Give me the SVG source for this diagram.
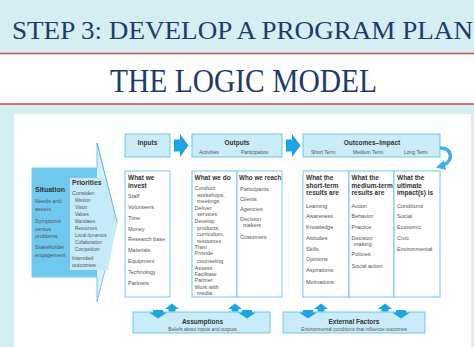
<svg xmlns="http://www.w3.org/2000/svg" width="474" height="347" viewBox="0 0 474 347">
<defs>
<style>
.t{font-family:"Liberation Sans",Arial,sans-serif;fill:#555}
.b{font-family:"Liberation Sans",Arial,sans-serif;font-weight:bold;fill:#333}
.s{font-size:5.5px}
.h{font-size:6.5px}
.box{fill:#c9ecf8;stroke:#62c3ea;stroke-width:0.9}
.col{fill:#fff;stroke:#62c3ea;stroke-width:0.9}
.arr{fill:#1aa5e5}
.ttl{font-family:"Liberation Serif","Times New Roman",serif;fill:#1d3b6e}
</style>
<linearGradient id="ag" x1="0" y1="0" x2="1" y2="0">
<stop offset="0" stop-color="#9adcf4"/>
<stop offset="1" stop-color="#e6f7fc"/>
</linearGradient>
</defs>
<rect width="474" height="347" fill="#d5eef2"/>
<rect x="0" y="54" width="474" height="50" fill="#fff"/>
<line x1="0" y1="53.5" x2="474" y2="53.5" stroke="#c0504d" stroke-width="1.5"/>
<line x1="0" y1="104" x2="474" y2="104" stroke="#c0504d" stroke-width="1.5"/>
<text class="ttl" x="12" y="39" font-size="26" textLength="461" lengthAdjust="spacingAndGlyphs">STEP 3: DEVELOP A PROGRAM PLAN</text>
<text class="ttl" x="110" y="92" font-size="33" textLength="267" lengthAdjust="spacingAndGlyphs">THE LOGIC MODEL</text>
<rect x="14" y="114" width="457" height="233" fill="#fff"/>
<rect x="471" y="114" width="3" height="233" fill="#e4e8ea"/>

<g id="situation-arrow">
<polygon points="32,168 97,168 97,143 117,222 97,302 97,277 32,277" fill="url(#ag)" stroke="#55bde6" stroke-width="0.8"/>
<rect x="32" y="168" width="65" height="109" fill="#6fc9ee"/>
<polygon points="70,178 105.5,178 117,222 108,270 70,270" fill="#c6ebf8"/>
<line x1="97" y1="143" x2="117" y2="222" stroke="#55bde6" stroke-width="0.8"/>
</g>
<g id="situation">
<text class="b" x="35" y="192" font-size="7">Situation</text>
<text class="t s" x="35" y="203">Needs and</text>
<text class="t s" x="35" y="210.5">assets</text>
<text class="t s" x="35" y="223">Symptoms</text>
<text class="t s" x="35" y="230.5">versus</text>
<text class="t s" x="35" y="238">problems</text>
<text class="t s" x="35" y="249">Stakeholder</text>
<text class="t s" x="35" y="256.5">engagement</text>
</g>
<g id="priorities">
<text class="b" x="72" y="185" font-size="6.8">Priorities</text>
<text class="t s" x="72" y="194.5">Consider:</text>
<text class="t" x="75" y="202" font-size="4.6">Mission</text>
<text class="t" x="75" y="209" font-size="4.6">Vision</text>
<text class="t" x="75" y="216" font-size="4.6">Values</text>
<text class="t" x="75" y="223" font-size="4.6">Mandates</text>
<text class="t" x="75" y="230" font-size="4.6">Resources</text>
<text class="t" x="75" y="237" font-size="4.6">Local dynamics</text>
<text class="t" x="75" y="244" font-size="4.6">Collaboration</text>
<text class="t" x="75" y="251" font-size="4.6">Competition</text>
<text class="t s" x="72" y="260">Intended</text>
<text class="t s" x="72" y="267">outcomes</text>
</g>

<g id="inputs">
<rect class="box" x="125" y="134" width="45" height="23"/>
<text class="b h" x="147.5" y="145" text-anchor="middle">Inputs</text>
</g>
<g id="outputs">
<rect class="box" x="192" y="134" width="90" height="23"/>
<text class="b h" x="237" y="145" text-anchor="middle">Outputs</text>
<text class="t" x="199" y="153.5" font-size="5">Activities</text>
<text class="t" x="241" y="153.5" font-size="5">Participation</text>
</g>
<g id="outcomes">
<rect class="box" x="303" y="134" width="137" height="23"/>
<text class="b h" x="372" y="145" text-anchor="middle">Outcomes–Impact</text>
<text class="t" x="311" y="153.5" font-size="5">Short Term</text>
<text class="t" x="353" y="153.5" font-size="5">Medium Term</text>
<text class="t" x="404" y="153.5" font-size="5">Long Term</text>
</g>

<g id="invest">
<rect class="col" x="125" y="171" width="45" height="126"/>
<text class="b h" x="128" y="180">What we</text>
<text class="b h" x="128" y="187.5">invest</text>
<text class="t s" x="128" y="198">Staff</text>
<text class="t s" x="128" y="209">Volunteers</text>
<text class="t s" x="128" y="219.5">Time</text>
<text class="t s" x="128" y="230.5">Money</text>
<text class="t s" x="128" y="241">Research base</text>
<text class="t s" x="128" y="252">Materials</text>
<text class="t s" x="128" y="263">Equipment</text>
<text class="t s" x="128" y="274">Technology</text>
<text class="t s" x="128" y="285">Partners</text>
</g>
<g id="do">
<rect class="col" x="192" y="171" width="45" height="126"/>
<text class="b h" x="194.5" y="180">What we do</text>
<text class="t s" x="194.5" y="190">Conduct</text>
<text class="t s" x="197" y="196.5">workshops,</text>
<text class="t s" x="197" y="202.5">meetings</text>
<text class="t s" x="194.5" y="209.5">Deliver</text>
<text class="t s" x="197" y="216">services</text>
<text class="t s" x="194.5" y="223">Develop</text>
<text class="t s" x="197" y="229.5">products,</text>
<text class="t s" x="197" y="236">curriculum,</text>
<text class="t s" x="197" y="243">resources</text>
<text class="t s" x="194.5" y="248.5">Train</text>
<text class="t s" x="194.5" y="255">Provide</text>
<text class="t s" x="197" y="262.5">counseling</text>
<text class="t s" x="194.5" y="269.5">Assess</text>
<text class="t s" x="194.5" y="276">Facilitate</text>
<text class="t s" x="194.5" y="282">Partner</text>
<text class="t s" x="194.5" y="288.5">Work with</text>
<text class="t s" x="197" y="295">media</text>
</g>
<g id="reach">
<rect class="col" x="237" y="171" width="45" height="126"/>
<text class="b" x="239" y="180" font-size="6.3">Who we reach</text>
<text class="t s" x="240" y="191">Participants</text>
<text class="t s" x="240" y="200.5">Clients</text>
<text class="t s" x="240" y="211">Agencies</text>
<text class="t s" x="240" y="221">Decision</text>
<text class="t s" x="243" y="227">makers</text>
<text class="t s" x="240" y="239">Customers</text>
</g>
<g id="short">
<rect class="col" x="303" y="171" width="46" height="126"/>
<text class="b h" x="306" y="180">What the</text>
<text class="b h" x="306" y="187.5">short-term</text>
<text class="b h" x="306" y="195">results are</text>
<text class="t s" x="306" y="207.5">Learning</text>
<text class="t s" x="306" y="218">Awareness</text>
<text class="t s" x="306" y="228.5">Knowledge</text>
<text class="t s" x="306" y="239.5">Attitudes</text>
<text class="t s" x="306" y="250.5">Skills</text>
<text class="t s" x="306" y="261">Opinions</text>
<text class="t s" x="306" y="272">Aspirations</text>
<text class="t s" x="306" y="283.5">Motivations</text>
</g>
<g id="medium">
<rect class="col" x="349" y="171" width="45" height="126"/>
<text class="b h" x="351.5" y="180">What the</text>
<text class="b h" x="351.5" y="187.5">medium-term</text>
<text class="b h" x="351.5" y="195">results are</text>
<text class="t s" x="351.5" y="207.5">Action</text>
<text class="t s" x="351.5" y="218">Behavior</text>
<text class="t s" x="351.5" y="228.5">Practice</text>
<text class="t s" x="351.5" y="239.5">Decision</text>
<text class="t s" x="354" y="246">making</text>
<text class="t s" x="351.5" y="256">Policies</text>
<text class="t s" x="351.5" y="267.5">Social action</text>
</g>
<g id="long">
<rect class="col" x="394" y="171" width="46" height="126"/>
<text class="b h" x="397" y="180">What the</text>
<text class="b h" x="397" y="187.5">ultimate</text>
<text class="b h" x="397" y="195">impact(s) is</text>
<text class="t s" x="397" y="207.5">Conditions</text>
<text class="t s" x="397" y="218">Social</text>
<text class="t s" x="397" y="228.5">Economic</text>
<text class="t s" x="397" y="239.5">Civic</text>
<text class="t s" x="397" y="250.5">Environmental</text>
</g>

<g id="assumptions">
<rect class="box" x="133" y="312" width="137" height="21"/>
<text class="b h" x="202.5" y="323.5" text-anchor="middle">Assumptions</text>
<text class="t" x="202.5" y="330.5" font-size="4.8" text-anchor="middle">Beliefs about inputs and outputs</text>
</g>
<g id="external">
<rect class="box" x="283" y="312" width="142" height="21"/>
<text class="b h" x="354" y="323.5" text-anchor="middle">External Factors</text>
<text class="t" x="354" y="330.5" font-size="4.8" text-anchor="middle">Environmental conditions that influence outcomes</text>
</g>

<g id="connectors">
<polygon class="arr" points="174,139.5 180,139.5 180,134 188.5,145.5 180,157 180,151.5 174,151.5"/>
<polygon class="arr" points="286,139.5 292,139.5 292,134 300.5,145.5 292,157 292,151.5 286,151.5"/>
<path d="M440,148 C452,148 454,160 444,165" fill="none" stroke="#3aafe6" stroke-width="3.5"/>
<polygon points="436,167.5 444,160 446,170" fill="#3aafe6"/>
<g class="arr">
<polygon points="153,310 163,310 163,312.5 167,312.5 158,318.5 149,312.5 153,312.5"/>
<polygon points="172,303.5 179,309 175.5,309 175.5,311.5 168.5,311.5 168.5,309 165,309"/>
<polygon points="235,303.5 242,309 238.5,309 238.5,311.5 231.5,311.5 231.5,309 228,309"/>
<polygon points="242,310 252,310 252,312.5 256,312.5 247,318.5 238,312.5 242,312.5"/>
<polygon points="303,310 313,310 313,312.5 317,312.5 308,318.5 299,312.5 303,312.5"/>
<polygon points="321,303.5 328,309 324.5,309 324.5,311.5 317.5,311.5 317.5,309 314,309"/>
<polygon points="385,303.5 392,309 388.5,309 388.5,311.5 381.5,311.5 381.5,309 378,309"/>
<polygon points="396,310 406,310 406,312.5 410,312.5 401,318.5 392,312.5 396,312.5"/>
</g>
</g>
</svg>
